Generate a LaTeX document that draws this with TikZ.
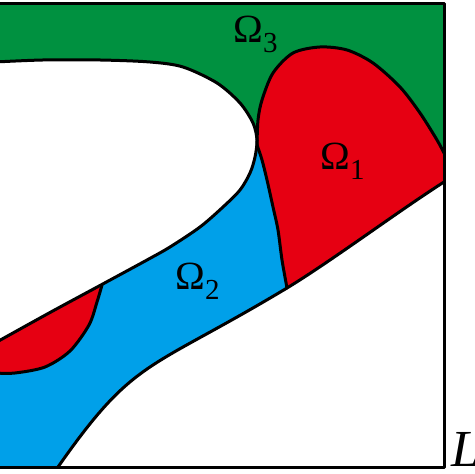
\documentclass[tikz,border=0pt]{standalone}
\usepackage{fontspec}
\setmainfont{Liberation Serif}
\definecolor{omgreen}{RGB}{0,145,64}
\definecolor{omred}{RGB}{230,0,18}
\definecolor{omblue}{RGB}{0,160,233}
\newcommand{\omlab}[1]{{\fontsize{20}{20}\selectfont Ω}\raisebox{-5pt}{\fontsize{14.5}{14.5}\selectfont #1}}
\begin{document}
\begin{tikzpicture}[x=0.5pt,y=-0.5pt,
  bnd/.style={line width=1.5pt, line join=round, line cap=round},
  lbl/.style={anchor=base west, inner sep=0pt}]
\useasboundingbox (0,0) rectangle (474,474);
% base
\fill[omblue] (-5,3) rectangle (444,467);
% green
\fill[omgreen] (-5,3) -- (444,3) -- (444,153) -- (257,142) -- (-5,142) -- cycle;
% big red
\fill[omred] plot[smooth] coordinates {(257,145) (258,120) (262,100) (273,73) (293,53) (320,47) (347,50) (373,63) (400,87) (420,113) (437,140) (444,153)}
  -- (444,182) .. controls (400,210) and (330,262) .. (287,288)
  -- plot[smooth] coordinates {(287,288) (282,260) (278,230) (273,207) (267,180) (262,160) (257,145)} -- cycle;
% lower white
\fill[white] (444,182) .. controls (400,210) and (330,262) .. (287,288)
  .. controls (147,372) and (135,357) .. (58,467) -- (446,467) -- (446,182) -- cycle;
% hole
\fill[white] plot[smooth] coordinates {(-5,62) (43,60) (100,60) (150,62) (183,67) (217,83) (240,103) (253,123) (257,140) (255,157) (250,173) (240,190) (223,207) (200,227) (170,247) (147,260) (100,285.5) (50,312.5) (-5,343)} -- cycle;
% small red
\fill[omred] (-5,343) -- (102,285) -- plot[smooth] coordinates {(102,285) (97,302) (89,325) (70,351) (45,367) (15,373) (-5,373)} -- cycle;
% boundaries
\draw[bnd] plot[smooth] coordinates {(-5,62) (43,60) (100,60) (150,62) (183,67) (217,83) (240,103) (253,123) (257,140) (255,157) (250,173) (240,190) (223,207) (200,227) (170,247) (147,260) (100,285.5) (50,312.5) (-5,343)};
\draw[bnd] plot[smooth] coordinates {(257,145) (258,120) (262,100) (273,73) (293,53) (320,47) (347,50) (373,63) (400,87) (420,113) (437,140) (444,153)};
\draw[bnd] plot[smooth] coordinates {(287,288) (282,260) (278,230) (273,207) (267,180) (262,160) (257,145)};
\draw[bnd] (444,182) .. controls (400,210) and (330,262) .. (287,288)
  .. controls (147,372) and (135,357) .. (58,467);
\draw[bnd] plot[smooth] coordinates {(102,285) (97,302) (89,325) (70,351) (45,367) (15,373) (-5,373)};
% frame
\draw[bnd, line cap=butt] (-5,3.5) -- (444.5,3.5) -- (444.5,467) -- (-5,467);
% labels
\node[lbl] (o3) at (233,43) {\omlab{3}};
\node[lbl] (o1) at (320,170) {\omlab{1}};
\node[lbl] (o2) at (175,290) {\omlab{2}};
\node[lbl] (ll) at (451,466) {\fontsize{26}{26}\selectfont\itshape L};
\end{tikzpicture}
\end{document}
